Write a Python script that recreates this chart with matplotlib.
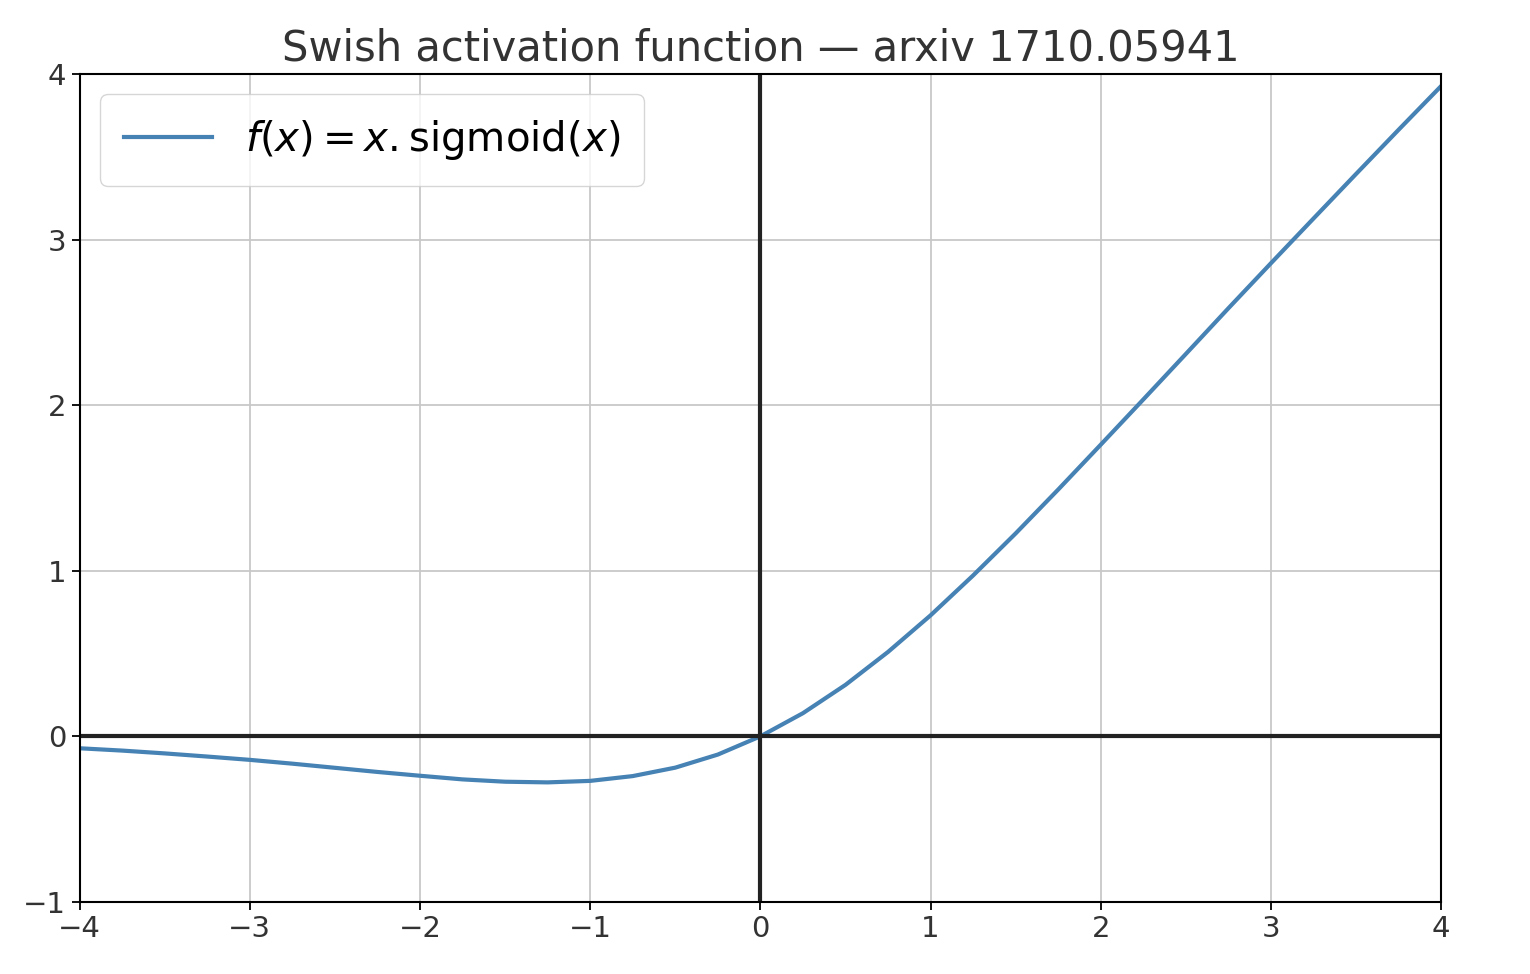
import numpy as np
import matplotlib.pyplot as plt

# Points
x_vals = [-4, -3.75, -3.5, -3.25, -3, -2.75, -2.5, -2.25, -2, -1.75, -1.5, -1.25,
          -1, -0.75, -0.5, -0.25, 0, 0.25, 0.5, 0.75, 1, 1.25, 1.5, 1.75,
          2, 2.25, 2.5, 2.75, 3, 3.25, 3.5, 3.75, 4]
y_vals = [-0.072, -0.086, -0.103, -0.122, -0.142, -0.165, -0.190, -0.215,
          -0.238, -0.260, -0.274, -0.278, -0.269, -0.240, -0.189, -0.110,
          0.0, 0.140, 0.311, 0.510, 0.731, 0.972, 1.226, 1.491,
          1.762, 2.035, 2.310, 2.586, 2.858, 3.128, 3.397, 3.664, 3.928]

fig = plt.figure(figsize=(15.3, 9.74), dpi=100)
ax = fig.add_axes([0.052, 0.074, 0.890, 0.850])
ax.plot(x_vals, y_vals, color='#4682b4', linewidth=3, label=r'$f(x) = x.\mathrm{sigmoid}(x)$')
ax.axhline(0, color='#222222', linewidth=3)
ax.axvline(0, color='#222222', linewidth=3)
ax.grid(True, color='#c8c8c8', linewidth=1.3)
ax.set_xlim(-4, 4)
ax.set_ylim(-1, 4)
ax.tick_params(labelsize=21, length=6, width=1.3, labelcolor='#333333')
for s in ax.spines.values():
    s.set_linewidth(1.5)
ax.set_title("Swish activation function — arxiv 1710.05941", fontsize=30, color='#333333', pad=10)
ax.legend(loc='upper left', fontsize=29, handlelength=2.2, borderpad=0.6)

fig.savefig('out.png', dpi=100)
